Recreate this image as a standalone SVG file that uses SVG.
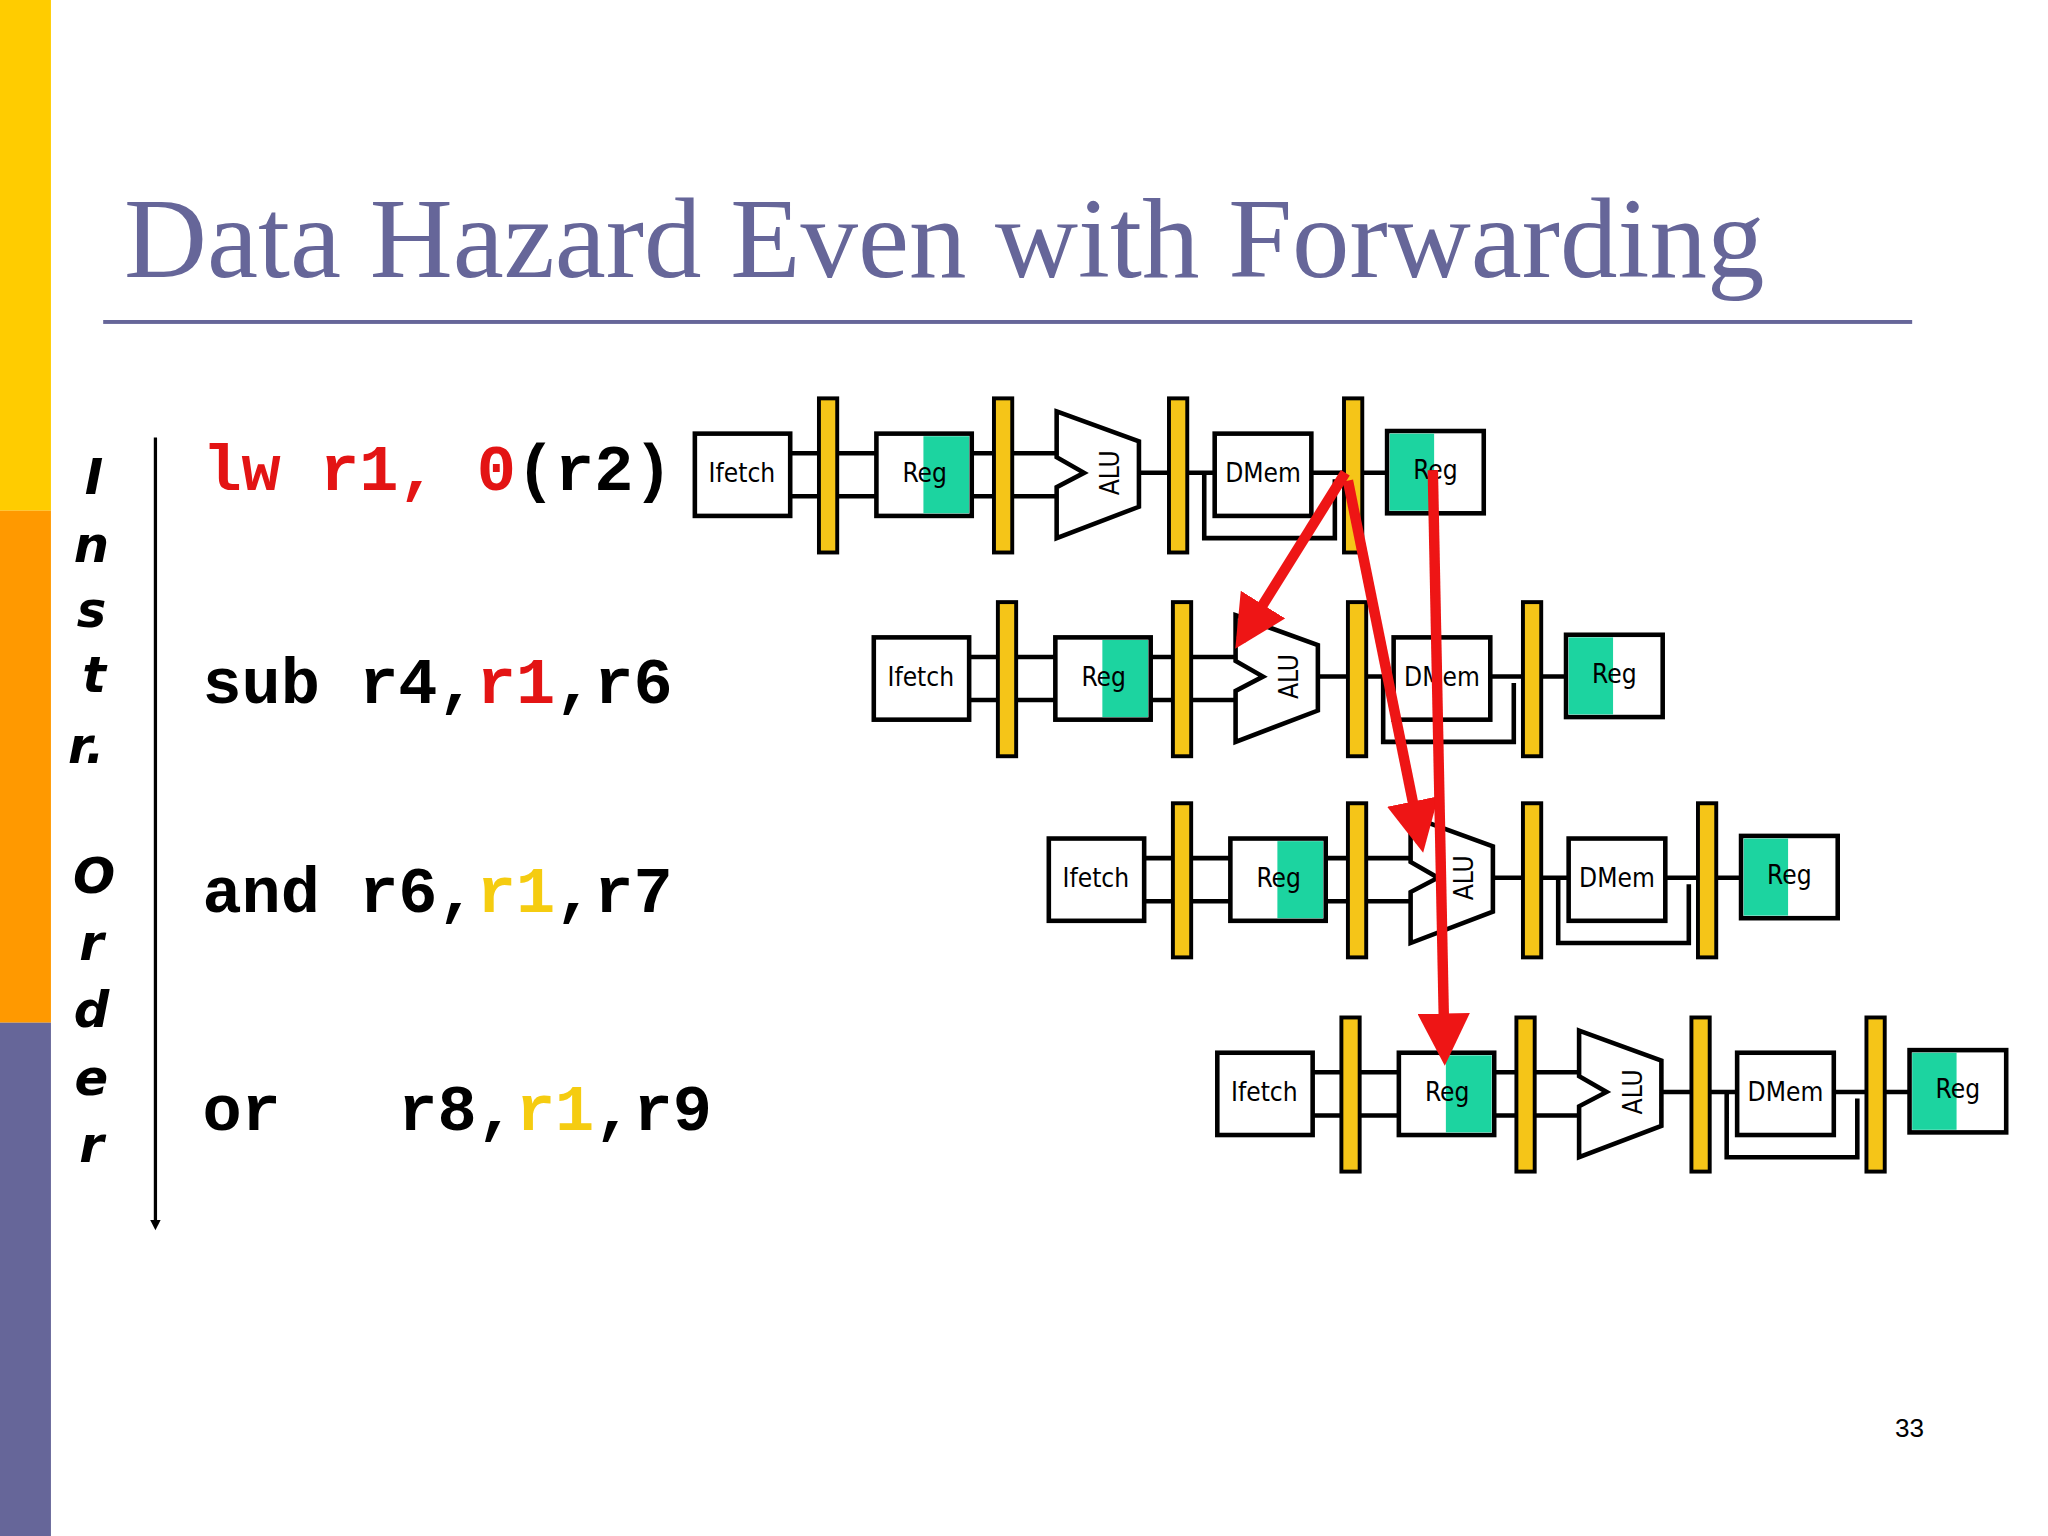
<svg xmlns="http://www.w3.org/2000/svg" xmlns:xlink="http://www.w3.org/1999/xlink" width="2048" height="1536" viewBox="0 0 2048 1536">
<style>
.bx{fill:#fff;stroke:#000;stroke-width:3.5}
.lt{fill:#F5C518;stroke:#000;stroke-width:3}
.gr{fill:#1CD4A0}
.w{stroke:#000;stroke-width:3.5;fill:none}
.lb{font-family:"DejaVu Sans Condensed","DejaVu Sans",sans-serif;font-size:20px;text-anchor:middle;fill:#000}
.code{font-family:"Liberation Mono",monospace;font-weight:bold;font-size:50px;fill:#000}
.vt{font-family:"DejaVu Sans",sans-serif;font-weight:bold;font-style:italic;font-size:38px;fill:#000;text-anchor:middle}
.red{stroke:#EE1515;stroke-width:8;fill:none;marker-end:url(#ah)}
</style>
<defs>
<marker id="ah" markerUnits="strokeWidth" markerWidth="5" markerHeight="5" refX="4" refY="2.5" orient="auto"><path d="M0,0 L5,2.5 L0,5 z" fill="#EE1515"/></marker>
<g id="row">
<path class="w" d="M73,-15H95M73,18H95M109,-15H139M109,18H139M212,-15H229M212,18H229M243,-15H280M243,18H280M340,0H363M377,0H398M472,0H497M511,0H530M390,0V50H490V5"/>
<rect class="bx" x="0" y="-30" width="73" height="63"/>
<text class="lb" x="36" y="7">Ifetch</text>
<rect class="lt" x="95" y="-57" width="14" height="118"/>
<rect class="bx" x="139" y="-30" width="73" height="63"/>
<rect class="gr" x="175" y="-28" width="35" height="59"/>
<text class="lb" x="176" y="7">Reg</text>
<rect class="lt" x="229" y="-57" width="14" height="118"/>
<polygon class="bx" points="277,-47 340,-24 340,26 277,50 277,11 298,0 277,-12"/>
<text class="lb" transform="translate(325,0) rotate(-90)" y="0">ALU</text>
<rect class="lt" x="363" y="-57" width="14" height="118"/>
<rect class="bx" x="398" y="-30" width="74" height="63"/>
<text class="lb" x="435" y="7">DMem</text>
<rect class="lt" x="497" y="-57" width="14" height="118"/>
<rect class="bx" x="530" y="-32" width="74" height="63"/>
<rect class="gr" x="532" y="-30" width="34" height="59"/>
<text class="lb" x="567" y="5">Reg</text>
</g>
</defs>
<rect width="2048" height="1536" fill="#fff"/>
<g transform="scale(1.30612)">
<g id="sidebar">
<rect x="0" y="0" width="39" height="391" fill="#FFCC00"/>
<rect x="0" y="391" width="39" height="392" fill="#FF9900"/>
<rect x="0" y="783" width="39" height="393" fill="#666699"/>
</g>
<g id="title">
<text x="95" y="212" font-family="Liberation Serif,serif" font-size="88" fill="#666699">Data Hazard Even with Forwarding</text>
<rect x="79" y="245" width="1385" height="3" fill="#666699"/>
</g>
<g id="axis">
<text class="vt" x="72" y="378">I</text>
<text class="vt" x="70" y="430">n</text>
<text class="vt" x="70" y="480">s</text>
<text class="vt" x="72" y="530">t</text>
<text class="vt" x="66" y="584">r.</text>
<text class="vt" x="72" y="684">O</text>
<text class="vt" x="70" y="735">r</text>
<text class="vt" x="70" y="786">d</text>
<text class="vt" x="70" y="838">e</text>
<text class="vt" x="70" y="890">r</text>
<line x1="119" y1="335" x2="119" y2="938" stroke="#000" stroke-width="2.5"/>
<path d="M115,934 L119,942 L123,934 z" fill="#000"/>
</g>
<g id="instructions">
<text class="code" x="155" y="375"><tspan fill="#E31414">lw r1, 0</tspan>(r2)</text>
<text class="code" x="155" y="538">sub r4,<tspan fill="#E31414">r1</tspan>,r6</text>
<text class="code" x="155" y="698">and r6,<tspan fill="#F5CC10">r1</tspan>,r7</text>
<text class="code" x="155" y="865" xml:space="preserve">or   r8,<tspan fill="#F5CC10">r1</tspan>,r9</text>
</g>
<g id="pipe1"><use xlink:href="#row" href="#row" transform="translate(532,362)"/></g>
<g id="pipe2"><use xlink:href="#row" href="#row" transform="translate(669,518)"/></g>
<g id="pipe3"><use xlink:href="#row" href="#row" transform="translate(803,672)"/></g>
<g id="pipe4"><use xlink:href="#row" href="#row" transform="translate(932,836)"/></g>
<g id="connectors">
<line class="red" x1="1030" y1="362" x2="950" y2="490"/>
<line class="red" x1="1032" y1="368" x2="1088" y2="645"/>
<line class="red" x1="1097" y1="360" x2="1106" y2="808"/>
</g>
<text x="1462" y="1100" font-family="Liberation Sans,sans-serif" font-size="20" text-anchor="middle" fill="#000">33</text>
</g>
</svg>
